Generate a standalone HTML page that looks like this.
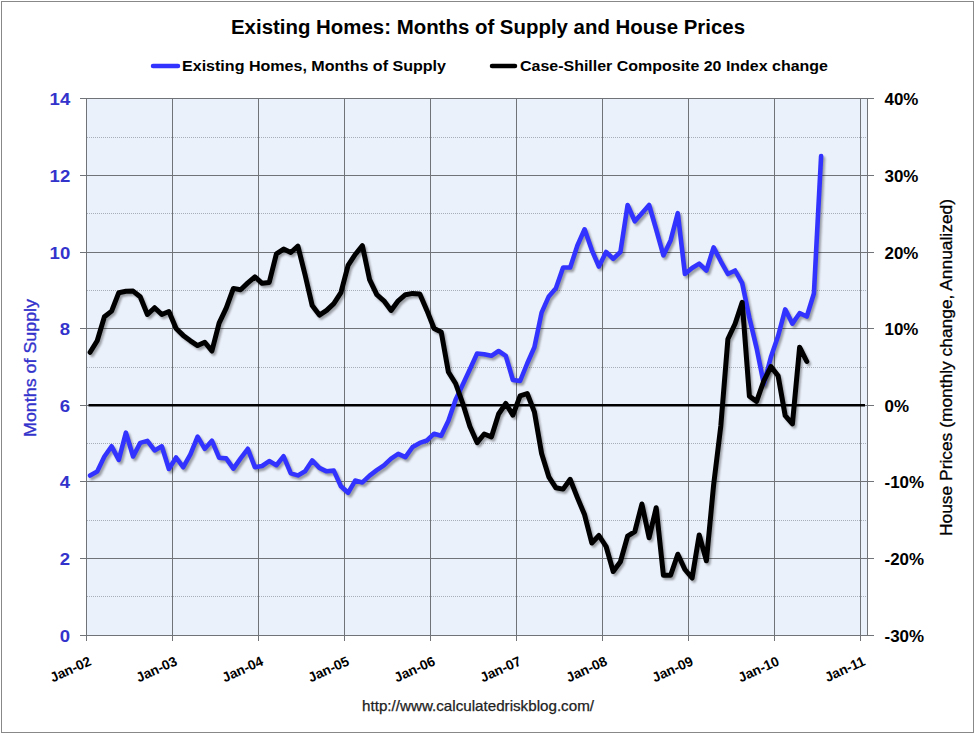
<!DOCTYPE html><html><head><meta charset="utf-8"><style>html,body{margin:0;padding:0;background:#fff;}svg{display:block;}text{font-family:"Liberation Sans",sans-serif;}</style></head><body>
<svg width="975" height="734" viewBox="0 0 975 734">
<defs><filter id="sh" x="-5%" y="-5%" width="110%" height="110%"><feGaussianBlur stdDeviation="1.2"/></filter></defs>
<rect x="0" y="0" width="975" height="734" fill="#fff"/>
<rect x="1.5" y="1.5" width="972" height="731" fill="none" stroke="#888" stroke-width="1"/>
<rect x="86" y="98" width="781" height="537" fill="#EBF1FB"/>
<line x1="87" y1="137.5" x2="867" y2="137.5" stroke="#a8aeb6" stroke-width="1" stroke-dasharray="1,1"/>
<line x1="87" y1="213.5" x2="867" y2="213.5" stroke="#a8aeb6" stroke-width="1" stroke-dasharray="1,1"/>
<line x1="87" y1="290.5" x2="867" y2="290.5" stroke="#a8aeb6" stroke-width="1" stroke-dasharray="1,1"/>
<line x1="87" y1="367.5" x2="867" y2="367.5" stroke="#a8aeb6" stroke-width="1" stroke-dasharray="1,1"/>
<line x1="87" y1="443.5" x2="867" y2="443.5" stroke="#a8aeb6" stroke-width="1" stroke-dasharray="1,1"/>
<line x1="87" y1="520.5" x2="867" y2="520.5" stroke="#a8aeb6" stroke-width="1" stroke-dasharray="1,1"/>
<line x1="87" y1="596.5" x2="867" y2="596.5" stroke="#a8aeb6" stroke-width="1" stroke-dasharray="1,1"/>
<line x1="80" y1="98.5" x2="874" y2="98.5" stroke="#707478" stroke-width="1"/>
<line x1="80" y1="175.5" x2="874" y2="175.5" stroke="#707478" stroke-width="1"/>
<line x1="80" y1="252.5" x2="874" y2="252.5" stroke="#707478" stroke-width="1"/>
<line x1="80" y1="328.5" x2="874" y2="328.5" stroke="#707478" stroke-width="1"/>
<line x1="80" y1="405.5" x2="874" y2="405.5" stroke="#707478" stroke-width="1"/>
<line x1="80" y1="481.5" x2="874" y2="481.5" stroke="#707478" stroke-width="1"/>
<line x1="80" y1="558.5" x2="874" y2="558.5" stroke="#707478" stroke-width="1"/>
<line x1="80" y1="635.5" x2="874" y2="635.5" stroke="#707478" stroke-width="1"/>
<line x1="86.5" y1="98" x2="86.5" y2="641" stroke="#707478" stroke-width="1"/>
<line x1="172.5" y1="98" x2="172.5" y2="641" stroke="#707478" stroke-width="1"/>
<line x1="258.5" y1="98" x2="258.5" y2="641" stroke="#707478" stroke-width="1"/>
<line x1="344.5" y1="98" x2="344.5" y2="641" stroke="#707478" stroke-width="1"/>
<line x1="430.5" y1="98" x2="430.5" y2="641" stroke="#707478" stroke-width="1"/>
<line x1="516.5" y1="98" x2="516.5" y2="641" stroke="#707478" stroke-width="1"/>
<line x1="602.5" y1="98" x2="602.5" y2="641" stroke="#707478" stroke-width="1"/>
<line x1="688.5" y1="98" x2="688.5" y2="641" stroke="#707478" stroke-width="1"/>
<line x1="774.5" y1="98" x2="774.5" y2="641" stroke="#707478" stroke-width="1"/>
<line x1="860.5" y1="98" x2="860.5" y2="641" stroke="#707478" stroke-width="1"/>
<line x1="867.5" y1="98" x2="867.5" y2="635" stroke="#707478" stroke-width="1"/>
<line x1="88.5" y1="405.2" x2="865" y2="405.2" stroke="#000" stroke-width="2.4"/>
<polyline points="90.1,475.6 97.2,471.5 104.4,456.5 111.6,446.3 118.8,459.9 125.9,432.7 133.1,456.5 140.2,442.9 147.4,440.9 154.6,450.4 161.8,446.3 168.9,469.0 176.1,457.5 183.2,467.2 190.4,454.3 197.6,436.6 204.8,448.8 211.9,440.7 219.1,457.7 226.2,458.4 233.4,468.6 240.6,458.4 247.8,448.8 254.9,467.2 262.1,466.0 269.2,461.1 276.4,465.2 283.6,456.3 290.8,473.4 297.9,475.4 305.1,471.3 312.2,460.4 319.4,467.9 326.6,471.3 333.8,470.6 340.9,486.3 348.1,492.8 355.2,480.6 362.4,482.4 369.6,475.6 376.8,470.2 383.9,465.4 391.1,458.6 398.2,453.8 405.4,457.2 412.6,447.0 419.8,442.9 426.9,440.5 434.1,433.7 441.2,435.7 448.4,420.7 455.6,399.7 462.8,384.4 469.9,369.2 477.1,353.5 484.2,354.3 491.4,355.8 498.6,351.0 505.8,355.8 512.9,380.0 520.1,381.0 527.2,363.5 534.4,347.3 541.6,312.6 548.8,296.4 555.9,288.3 563.1,267.5 570.2,267.5 577.4,245.5 584.6,229.3 591.8,250.1 598.9,266.5 606.1,252.0 613.2,258.8 620.4,252.0 627.6,205.0 634.8,221.3 641.9,213.2 649.1,205.0 656.2,229.5 663.4,255.4 670.6,240.4 677.8,213.2 684.9,274.0 692.1,268.0 699.2,263.6 706.4,270.5 713.6,247.4 720.8,261.3 727.9,274.0 735.1,270.5 742.2,283.2 749.4,318.0 756.6,348.1 763.8,384.0 770.9,357.0 778.1,336.0 785.2,309.4 792.4,323.6 799.6,313.2 806.8,316.5 813.9,293.5 821.1,156.0" transform="translate(2,2.5)" fill="none" stroke="#000" stroke-opacity="0.35" stroke-width="4.5" stroke-linejoin="round" stroke-linecap="round" filter="url(#sh)"/>
<polyline points="90.1,352.3 97.2,340.8 104.4,316.8 111.6,311.1 118.8,292.7 125.9,291.3 133.1,291.1 140.2,296.8 147.4,314.5 154.6,307.7 161.8,314.5 168.9,311.5 176.1,328.5 183.2,335.4 190.4,340.8 197.6,345.6 204.8,342.2 211.9,351.0 219.1,323.1 226.2,308.1 233.4,288.4 240.6,289.7 247.8,282.9 254.9,276.8 262.1,283.3 269.2,282.5 276.4,253.8 283.6,249.1 290.8,252.5 297.9,246.1 305.1,275.0 312.2,305.6 319.4,315.1 326.6,310.4 333.8,303.6 340.9,292.7 348.1,265.4 355.2,254.5 362.4,245.7 369.6,279.7 376.8,294.7 383.9,300.8 391.1,310.4 398.2,300.8 405.4,294.7 412.6,293.4 419.8,294.0 426.9,310.4 434.1,328.5 441.2,331.9 448.4,372.0 455.6,383.5 462.8,403.5 469.9,426.4 477.1,442.6 484.2,434.0 491.4,436.9 498.6,414.0 505.8,403.5 512.9,415.2 520.1,395.9 527.2,393.5 534.4,411.9 541.6,453.5 548.8,476.8 555.9,487.8 563.1,489.1 570.2,479.3 577.4,497.6 584.6,514.8 591.8,543.0 598.9,535.5 606.1,546.5 613.2,571.5 620.4,561.7 627.6,536.2 634.8,531.7 641.9,504.0 649.1,537.7 656.2,507.7 663.4,575.2 670.6,575.2 677.8,554.2 684.9,569.5 692.1,578.0 699.2,534.9 706.4,560.8 713.6,485.0 720.8,426.0 727.9,339.0 735.1,323.7 742.2,302.3 749.4,396.3 756.6,401.4 763.8,380.9 770.9,366.6 778.1,375.8 785.2,415.7 792.4,423.9 799.6,347.2 806.8,361.5" transform="translate(2,2.5)" fill="none" stroke="#000" stroke-opacity="0.35" stroke-width="4.5" stroke-linejoin="round" stroke-linecap="round" filter="url(#sh)"/>
<polyline points="90.1,475.6 97.2,471.5 104.4,456.5 111.6,446.3 118.8,459.9 125.9,432.7 133.1,456.5 140.2,442.9 147.4,440.9 154.6,450.4 161.8,446.3 168.9,469.0 176.1,457.5 183.2,467.2 190.4,454.3 197.6,436.6 204.8,448.8 211.9,440.7 219.1,457.7 226.2,458.4 233.4,468.6 240.6,458.4 247.8,448.8 254.9,467.2 262.1,466.0 269.2,461.1 276.4,465.2 283.6,456.3 290.8,473.4 297.9,475.4 305.1,471.3 312.2,460.4 319.4,467.9 326.6,471.3 333.8,470.6 340.9,486.3 348.1,492.8 355.2,480.6 362.4,482.4 369.6,475.6 376.8,470.2 383.9,465.4 391.1,458.6 398.2,453.8 405.4,457.2 412.6,447.0 419.8,442.9 426.9,440.5 434.1,433.7 441.2,435.7 448.4,420.7 455.6,399.7 462.8,384.4 469.9,369.2 477.1,353.5 484.2,354.3 491.4,355.8 498.6,351.0 505.8,355.8 512.9,380.0 520.1,381.0 527.2,363.5 534.4,347.3 541.6,312.6 548.8,296.4 555.9,288.3 563.1,267.5 570.2,267.5 577.4,245.5 584.6,229.3 591.8,250.1 598.9,266.5 606.1,252.0 613.2,258.8 620.4,252.0 627.6,205.0 634.8,221.3 641.9,213.2 649.1,205.0 656.2,229.5 663.4,255.4 670.6,240.4 677.8,213.2 684.9,274.0 692.1,268.0 699.2,263.6 706.4,270.5 713.6,247.4 720.8,261.3 727.9,274.0 735.1,270.5 742.2,283.2 749.4,318.0 756.6,348.1 763.8,384.0 770.9,357.0 778.1,336.0 785.2,309.4 792.4,323.6 799.6,313.2 806.8,316.5 813.9,293.5 821.1,156.0" fill="none" stroke="#3333FF" stroke-width="4.6" stroke-linejoin="round" stroke-linecap="round"/>
<polyline points="90.1,352.3 97.2,340.8 104.4,316.8 111.6,311.1 118.8,292.7 125.9,291.3 133.1,291.1 140.2,296.8 147.4,314.5 154.6,307.7 161.8,314.5 168.9,311.5 176.1,328.5 183.2,335.4 190.4,340.8 197.6,345.6 204.8,342.2 211.9,351.0 219.1,323.1 226.2,308.1 233.4,288.4 240.6,289.7 247.8,282.9 254.9,276.8 262.1,283.3 269.2,282.5 276.4,253.8 283.6,249.1 290.8,252.5 297.9,246.1 305.1,275.0 312.2,305.6 319.4,315.1 326.6,310.4 333.8,303.6 340.9,292.7 348.1,265.4 355.2,254.5 362.4,245.7 369.6,279.7 376.8,294.7 383.9,300.8 391.1,310.4 398.2,300.8 405.4,294.7 412.6,293.4 419.8,294.0 426.9,310.4 434.1,328.5 441.2,331.9 448.4,372.0 455.6,383.5 462.8,403.5 469.9,426.4 477.1,442.6 484.2,434.0 491.4,436.9 498.6,414.0 505.8,403.5 512.9,415.2 520.1,395.9 527.2,393.5 534.4,411.9 541.6,453.5 548.8,476.8 555.9,487.8 563.1,489.1 570.2,479.3 577.4,497.6 584.6,514.8 591.8,543.0 598.9,535.5 606.1,546.5 613.2,571.5 620.4,561.7 627.6,536.2 634.8,531.7 641.9,504.0 649.1,537.7 656.2,507.7 663.4,575.2 670.6,575.2 677.8,554.2 684.9,569.5 692.1,578.0 699.2,534.9 706.4,560.8 713.6,485.0 720.8,426.0 727.9,339.0 735.1,323.7 742.2,302.3 749.4,396.3 756.6,401.4 763.8,380.9 770.9,366.6 778.1,375.8 785.2,415.7 792.4,423.9 799.6,347.2 806.8,361.5" fill="none" stroke="#000000" stroke-width="5.0" stroke-linejoin="round" stroke-linecap="round"/>
<text x="231" y="33.7" font-size="20.3" font-weight="bold" fill="#000" textLength="514" lengthAdjust="spacingAndGlyphs">Existing Homes: Months of Supply and House Prices</text>
<line x1="153" y1="66" x2="178" y2="66" stroke="#3333FF" stroke-width="4.5" stroke-linecap="round"/>
<text x="182" y="70.5" font-size="15.4" font-weight="bold" fill="#000" textLength="264" lengthAdjust="spacingAndGlyphs">Existing Homes, Months of Supply</text>
<line x1="492" y1="66" x2="515" y2="66" stroke="#000" stroke-width="4.5" stroke-linecap="round"/>
<text x="520" y="70.5" font-size="15.4" font-weight="bold" fill="#000" textLength="308" lengthAdjust="spacingAndGlyphs">Case-Shiller Composite 20 Index change</text>
<text transform="translate(70.2,105.3) scale(1.16,1)" font-size="16" font-weight="bold" fill="#3333CC" text-anchor="end">14</text>
<text transform="translate(70.2,182.3) scale(1.16,1)" font-size="16" font-weight="bold" fill="#3333CC" text-anchor="end">12</text>
<text transform="translate(70.2,259.3) scale(1.16,1)" font-size="16" font-weight="bold" fill="#3333CC" text-anchor="end">10</text>
<text transform="translate(70.2,335.3) scale(1.16,1)" font-size="16" font-weight="bold" fill="#3333CC" text-anchor="end">8</text>
<text transform="translate(70.2,412.3) scale(1.16,1)" font-size="16" font-weight="bold" fill="#3333CC" text-anchor="end">6</text>
<text transform="translate(70.2,488.3) scale(1.16,1)" font-size="16" font-weight="bold" fill="#3333CC" text-anchor="end">4</text>
<text transform="translate(70.2,565.3) scale(1.16,1)" font-size="16" font-weight="bold" fill="#3333CC" text-anchor="end">2</text>
<text transform="translate(70.2,642.3) scale(1.16,1)" font-size="16" font-weight="bold" fill="#3333CC" text-anchor="end">0</text>
<text transform="translate(884.5,104.7) scale(1.06,1)" font-size="16" font-weight="bold" fill="#000">40%</text>
<text transform="translate(884.5,181.7) scale(1.06,1)" font-size="16" font-weight="bold" fill="#000">30%</text>
<text transform="translate(884.5,258.7) scale(1.06,1)" font-size="16" font-weight="bold" fill="#000">20%</text>
<text transform="translate(884.5,334.7) scale(1.06,1)" font-size="16" font-weight="bold" fill="#000">10%</text>
<text transform="translate(884.5,411.7) scale(1.06,1)" font-size="16" font-weight="bold" fill="#000">0%</text>
<text transform="translate(884.5,487.7) scale(1.06,1)" font-size="16" font-weight="bold" fill="#000">-10%</text>
<text transform="translate(884.5,564.7) scale(1.06,1)" font-size="16" font-weight="bold" fill="#000">-20%</text>
<text transform="translate(884.5,641.7) scale(1.06,1)" font-size="16" font-weight="bold" fill="#000">-30%</text>
<text transform="translate(92.2,664.5) rotate(-24.5)" font-size="13.7" font-weight="bold" fill="#000" text-anchor="end">Jan-02</text>
<text transform="translate(178.2,664.5) rotate(-24.5)" font-size="13.7" font-weight="bold" fill="#000" text-anchor="end">Jan-03</text>
<text transform="translate(264.2,664.5) rotate(-24.5)" font-size="13.7" font-weight="bold" fill="#000" text-anchor="end">Jan-04</text>
<text transform="translate(350.2,664.5) rotate(-24.5)" font-size="13.7" font-weight="bold" fill="#000" text-anchor="end">Jan-05</text>
<text transform="translate(436.2,664.5) rotate(-24.5)" font-size="13.7" font-weight="bold" fill="#000" text-anchor="end">Jan-06</text>
<text transform="translate(522.2,664.5) rotate(-24.5)" font-size="13.7" font-weight="bold" fill="#000" text-anchor="end">Jan-07</text>
<text transform="translate(608.2,664.5) rotate(-24.5)" font-size="13.7" font-weight="bold" fill="#000" text-anchor="end">Jan-08</text>
<text transform="translate(694.2,664.5) rotate(-24.5)" font-size="13.7" font-weight="bold" fill="#000" text-anchor="end">Jan-09</text>
<text transform="translate(780.2,664.5) rotate(-24.5)" font-size="13.7" font-weight="bold" fill="#000" text-anchor="end">Jan-10</text>
<text transform="translate(866.2,664.5) rotate(-24.5)" font-size="13.7" font-weight="bold" fill="#000" text-anchor="end">Jan-11</text>
<text transform="translate(36.2,437) rotate(-90)" font-size="16.9" fill="#3333CC" stroke="#3333CC" stroke-width="0.35" textLength="138" lengthAdjust="spacingAndGlyphs">Months of Supply</text>
<text transform="translate(951.9,536) rotate(-90)" font-size="16.3" fill="#000" stroke="#000" stroke-width="0.3" textLength="337" lengthAdjust="spacingAndGlyphs">House Prices (monthly change, Annualized)</text>
<text x="362" y="710.8" font-size="14.5" fill="#222" stroke="#222" stroke-width="0.25" textLength="232" lengthAdjust="spacingAndGlyphs">http://www.calculatedriskblog.com/</text>
</svg></body></html>
